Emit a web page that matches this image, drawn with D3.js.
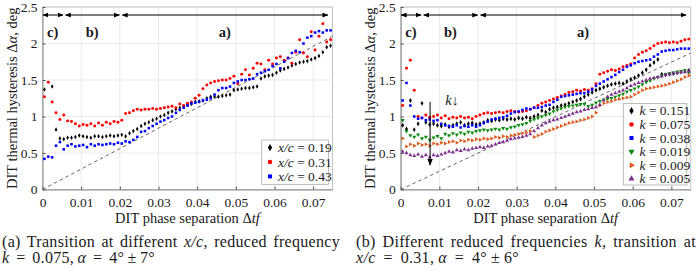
<!DOCTYPE html>
<html><head><meta charset="utf-8">
<script src="https://cdn.jsdelivr.net/npm/d3@7/dist/d3.min.js"></script>
<style>
body{margin:0;background:#fff}
svg{display:block}
text{font-family:"Liberation Serif","Times New Roman",serif;fill:#1a1a1a}
</style>
</head><body>
<svg id="c" width="700" height="273"></svg>
<script>
// ---------- DATA ----------
const dtf = [0.0005,0.0015,0.0025,0.0035,0.0045,0.0055,0.0065,0.0075,0.0085,0.0095,
 0.0105,0.0115,0.0125,0.0135,0.0145,0.0155,0.0165,0.0175,0.0185,0.0195,
 0.0205,0.0215,0.0225,0.0235,0.0245,0.0255,0.0265,0.0275,0.0285,0.0295,
 0.0305,0.0315,0.0325,0.0335,0.0345,0.0355,0.0365,0.0375,0.0385,0.0395,
 0.0405,0.0415,0.0425,0.0435,0.0445,0.0455,0.0465,0.0475,0.0485,0.0495,
 0.0505,0.0515,0.0525,0.0535,0.0545,0.0555,0.0565,0.0575,0.0585,0.0595,
 0.0605,0.0615,0.0625,0.0635,0.0645,0.0655,0.0665,0.0675,0.0685,0.0695,
 0.0705,0.0715,0.0725,0.0735,0.0745];

// Panel (a): transition at different x/c
const xcLabels = ["0.19","0.31","0.43"];
const xc019 = [1.37,null,1.41,0.82,0.70,0.69,0.71,0.71,0.72,0.74,
 0.73,0.72,0.71,0.73,0.73,0.72,0.73,0.74,0.73,0.74,
 0.75,0.73,0.77,0.80,0.83,0.87,0.90,0.92,0.95,0.97,
 1.00,1.02,1.05,1.07,1.10,1.12,1.14,1.16,1.17,1.20,
 1.21,1.22,1.25,1.27,1.27,1.27,1.28,1.29,1.30,1.36,
 1.37,1.38,1.39,1.39,1.40,1.41,1.52,1.55,1.56,1.57,
 1.60,1.63,1.65,1.67,1.70,1.72,1.74,1.75,1.76,1.78,
 1.80,1.83,1.88,1.95,1.97];
const xc031 = [1.27,1.47,1.20,1.05,0.96,1.02,0.94,0.93,0.90,0.87,
 0.89,0.88,0.90,0.87,0.91,0.88,0.92,0.90,0.93,0.92,
 0.95,1.04,1.05,1.08,1.10,1.09,1.10,1.10,1.11,1.10,
 1.11,1.12,1.13,1.14,1.12,1.17,1.15,1.18,1.20,1.25,
 1.29,1.38,1.43,1.46,1.48,1.49,1.50,1.50,1.52,1.55,
 1.45,1.58,1.64,1.57,1.66,1.73,1.72,1.64,1.77,1.72,
 1.80,1.82,1.77,1.80,1.73,1.88,2.05,1.87,1.82,2.16,
 1.91,2.10,2.27,2.02,2.05];
const xc043 = [0.42,0.45,0.44,0.60,0.65,0.55,0.60,0.62,0.59,0.60,
 0.61,0.58,0.62,0.60,0.62,0.61,0.62,0.63,0.62,0.64,
 0.63,0.66,0.65,0.68,0.72,0.79,0.80,0.84,0.87,0.90,
 0.93,0.95,0.98,1.00,1.05,1.09,1.12,1.15,1.18,1.19,
 1.20,1.22,1.23,1.25,1.30,1.36,1.39,1.39,1.41,1.46,
 1.48,1.50,1.50,1.51,1.52,1.58,1.60,1.62,1.64,1.69,
 1.72,1.66,1.75,1.80,1.87,1.90,1.88,2.00,2.08,2.10,
 2.15,2.17,2.15,2.18,2.18];

// Panel (b): different reduced frequencies k
const kLabels = ["0.151","0.075","0.038","0.019","0.009","0.005"];
const k0151 = [0.88,0.83,1.22,0.82,0.90,1.18,0.92,0.89,0.90,0.88,
 0.87,0.89,0.86,0.88,0.90,0.92,0.88,0.90,0.91,0.89,
 0.90,0.92,0.95,0.94,0.96,0.95,0.97,0.96,0.97,0.96,
 0.98,0.97,0.99,0.98,1.00,1.02,1.08,1.06,1.10,1.12,
 1.13,1.15,1.16,1.18,1.20,1.22,1.24,1.27,1.30,1.33,
 1.36,1.38,1.40,1.42,1.44,1.45,1.46,1.45,1.48,1.51,
 1.53,1.56,1.60,1.64,1.70,1.74,1.78,1.58,1.57,1.58,
 1.59,1.60,1.61,1.62,1.63];
const k0075 = [1.15,1.66,1.77,1.36,1.00,0.98,1.02,0.99,1.00,1.02,
 0.98,1.01,0.97,0.99,0.98,1.00,0.98,0.99,0.97,1.00,
 1.02,1.04,1.05,1.04,1.05,1.06,1.05,1.07,1.08,1.07,
 1.06,1.07,1.08,1.10,1.12,1.15,1.18,1.20,1.22,1.24,
 1.26,1.28,1.30,1.33,1.34,1.36,1.35,1.37,1.36,1.38,
 1.45,1.58,1.60,1.62,1.64,1.63,1.65,1.68,1.70,1.72,
 1.80,1.85,1.88,1.90,1.93,1.97,2.00,2.01,2.02,2.01,
 2.02,2.01,2.03,2.05,2.06];
const k0038 = [1.22,1.46,1.15,1.00,0.97,0.98,0.95,0.96,0.94,0.95,
 0.90,0.88,0.87,0.86,0.88,0.85,0.87,0.86,0.88,0.86,
 0.88,0.91,0.93,0.96,0.97,0.98,0.99,1.01,1.04,1.06,
 1.07,1.09,1.11,1.10,1.12,1.12,1.13,1.15,1.16,1.20,
 1.23,1.27,1.28,1.29,1.30,1.31,1.32,1.32,1.34,1.37,
 1.42,1.45,1.48,1.51,1.54,1.57,1.61,1.64,1.68,1.70,
 1.73,1.75,1.76,1.77,1.78,1.82,1.85,1.89,1.90,1.91,
 1.91,1.92,1.93,1.93,1.93];
const k0019 = [0.95,0.80,0.74,0.72,0.75,0.70,0.72,0.68,0.71,0.73,
 0.70,0.76,0.74,0.77,0.75,0.78,0.76,0.79,0.78,0.80,
 0.81,0.82,0.81,0.82,0.83,0.82,0.84,0.83,0.85,0.86,
 0.88,0.89,0.91,0.94,0.96,0.98,1.00,1.02,1.04,1.07,
 1.09,1.11,1.13,1.14,1.15,1.16,1.17,1.17,1.14,1.16,
 1.19,1.21,1.23,1.24,1.25,1.27,1.29,1.31,1.34,1.36,
 1.38,1.41,1.44,1.47,1.49,1.52,1.54,1.56,1.58,1.59,
 1.60,1.61,1.62,1.63,1.60];
const k0009 = [0.70,0.59,0.62,0.60,0.63,0.61,0.62,0.60,0.63,0.62,
 0.64,0.63,0.65,0.66,0.64,0.67,0.66,0.68,0.67,0.69,
 0.68,0.70,0.69,0.70,0.72,0.71,0.73,0.72,0.74,0.75,
 0.76,0.77,0.78,0.80,0.72,0.74,0.76,0.79,0.81,0.83,
 0.85,0.87,0.89,0.91,0.92,0.93,0.95,0.96,0.98,1.00,
 1.05,1.15,1.18,1.20,1.21,1.23,1.24,1.25,1.26,1.27,
 1.30,1.33,1.36,1.38,1.39,1.40,1.41,1.42,1.43,1.45,
 1.47,1.49,1.51,1.54,1.56];
const k0005 = [0.52,0.50,0.47,0.46,0.48,0.45,0.47,0.44,0.47,0.46,
 0.48,0.50,0.52,0.51,0.54,0.53,0.55,0.54,0.56,0.57,
 0.58,0.57,0.59,0.60,0.62,0.64,0.65,0.67,0.69,0.70,
 0.71,0.72,0.74,0.76,0.80,0.84,0.88,0.91,0.93,0.95,
 0.96,0.98,1.00,1.02,1.04,1.06,1.07,1.09,1.10,1.12,
 1.13,1.16,1.22,1.27,1.30,1.32,1.34,1.36,1.39,1.42,
 1.44,1.46,1.48,1.50,1.52,1.53,1.54,1.55,1.57,1.58,
 1.59,1.60,1.61,1.61,1.62];

// axis ticks
const xTicks = [0,0.01,0.02,0.03,0.04,0.05,0.06,0.07];
const xTickLabels = ["0","0.01","0.02","0.03","0.04","0.05","0.06","0.07"];
const yTicks = [0,0.5,1,1.5,2,2.5];
const yTickLabels = ["0","0.5","1","1.5","2","2.5"];
const xDomain = [0,0.075];
const yDomain = [0,2.5];

// reference line Δα vs Δtf end value at Δtf = 0.075
const diagEndA = 2.10, diagEndB = 1.87;

// regimes (arrows at the top)
const regimeLabels = ["c)","b)","a)"];
const regimeStart = [0,0.0058,0.0205];
const regimeEnd = [0.0053,0.0199,0.0738];
const regimeArrowY = 2.39, regimeLabelY = 2.16;

// k arrow in panel (b)
const kArrowX = 0.0076, kArrowFrom = 1.2, kArrowTo = 0.335;

// ---------- DRAWING ----------
const svg = d3.select("#c");
const plotTop = 7, plotBottom = 189.5;
const colors = {black:"#000000", red:"#ff0000", blue:"#0000ff", green:"#0a8a0a", orange:"#e0581a", purple:"#7e2f8e"};

const panels = [
 {x0:42.5, x1:332.5,
  series:[
   {vals:xc019, color:colors.black, shape:"diamond", rot:0, size:6, label:xcLabels[0]},
   {vals:xc031, color:colors.red, shape:"circle", rot:0, size:7, label:xcLabels[1]},
   {vals:xc043, color:colors.blue, shape:"square", rot:0, size:6.5, label:xcLabels[2]}],
  legName:"x/c", leg:{l:261.7, r:328.5, t:140, b:184.5, dy:14.4, y0:147.6, mx:270, tx:278},
  diagEnd:diagEndA, ylabX:17, cap:[
   [["(a) Transition at different ",0],["x/c",1],[", reduced frequency",0]],
   [["k",1],["  =  0.075, ",0],["α",1],["  =  4° ± 7°",0]]], capX:2, capW:[338,153]},
 {x0:400.7, x1:690.7,
  series:[
   {vals:k0151, color:colors.black, shape:"diamond", rot:0, size:7, label:kLabels[0]},
   {vals:k0075, color:colors.red, shape:"circle", rot:0, size:7, label:kLabels[1]},
   {vals:k0038, color:colors.blue, shape:"square", rot:0, size:6.5, label:kLabels[2]},
   {vals:k0019, color:colors.green, shape:"triangle", rot:180, size:7, label:kLabels[3]},
   {vals:k0009, color:colors.orange, shape:"triangle", rot:90, size:7, label:kLabels[4]},
   {vals:k0005, color:colors.purple, shape:"triangle", rot:0, size:7, label:kLabels[5]}],
  legName:"k", leg:{l:623.3, r:686.7, t:103.5, b:185, dy:13.6, y0:110.8, mx:631.5, tx:639.5},
  diagEnd:diagEndB, ylabX:375, cap:[
   [["(b) Different reduced frequencies ",0],["k",1],[", transition at",0]],
   [["x/c",1],["  =  0.31, ",0],["α",1],["  =  4° ± 6°",0]]], capX:356, capW:[340,163]}
];

const shapes = {diamond:d3.symbolDiamond, circle:d3.symbolCircle, square:d3.symbolSquare, triangle:d3.symbolTriangle};

const defs = svg.append("defs");
defs.append("marker").attr("id","ah").attr("viewBox","0 0 10 10").attr("refX",9).attr("refY",5)
 .attr("markerWidth",6).attr("markerHeight",6).attr("markerUnits","userSpaceOnUse").attr("orient","auto-start-reverse")
 .append("path").attr("d","M0,1 L10,5 L0,9 Z").attr("fill","#000");
defs.append("marker").attr("id","ah2").attr("viewBox","0 0 10 10").attr("refX",9).attr("refY",5)
 .attr("markerWidth",7).attr("markerHeight",7).attr("markerUnits","userSpaceOnUse").attr("orient","auto")
 .append("path").attr("d","M0,1 L10,5 L0,9 Z").attr("fill","#000");

panels.forEach((p,pi)=>{
  const x = d3.scaleLinear().domain(xDomain).range([p.x0,p.x1]);
  const y = d3.scaleLinear().domain(yDomain).range([plotBottom,plotTop]);
  const g = svg.append("g");

  // grid
  g.append("g").selectAll("line").data(xTicks.slice(1)).join("line")
   .attr("x1",d=>x(d)).attr("x2",d=>x(d)).attr("y1",plotTop).attr("y2",plotBottom)
   .attr("stroke","#e6e6e6").attr("stroke-width",0.8);
  g.append("g").selectAll("line").data(yTicks.slice(1)).join("line")
   .attr("y1",d=>y(d)).attr("y2",d=>y(d)).attr("x1",p.x0).attr("x2",p.x1)
   .attr("stroke","#e6e6e6").attr("stroke-width",0.8);

  // frame
  g.append("rect").attr("x",p.x0).attr("y",plotTop).attr("width",p.x1-p.x0).attr("height",plotBottom-plotTop)
   .attr("fill","none").attr("stroke","#c4c4c4").attr("stroke-width",1);

  // axes
  const ax = g.append("g").attr("transform",`translate(0,${plotBottom})`)
   .call(d3.axisBottom(x).tickValues(xTicks).tickFormat((d,i)=>xTickLabels[i]).tickSizeInner(-3).tickSizeOuter(0).tickPadding(8));
  const ay = g.append("g").attr("transform",`translate(${p.x0},0)`)
   .call(d3.axisLeft(y).tickValues(yTicks).tickFormat((d,i)=>yTickLabels[i]).tickSizeInner(-3).tickSizeOuter(0).tickPadding(5));
  [ax,ay].forEach(a=>{
    a.select(".domain").attr("stroke","#8c8c8c");
    a.selectAll(".tick line").attr("stroke","#555");
    a.selectAll(".tick text").attr("font-family","Liberation Serif").attr("font-size",13.5).attr("fill","#1a1a1a");
  });

  // axis titles
  g.append("text").attr("x",(p.x0+p.x1)/2).attr("y",223).attr("text-anchor","middle").attr("font-size",14.5)
   .call(t=>{t.append("tspan").text("DIT phase separation Δ"); t.append("tspan").attr("font-style","italic").text("tf");});
  g.append("text").attr("transform",`translate(${p.ylabX},${(plotTop+plotBottom)/2}) rotate(-90)`).attr("text-anchor","middle").attr("font-size",14.5)
   .call(t=>{t.append("tspan").text("DIT thermal hysteresis Δ"); t.append("tspan").attr("font-style","italic").text("α"); t.append("tspan").text(", deg");});

  // dashed reference line
  g.append("line").attr("x1",x(0)).attr("y1",y(0)).attr("x2",x(xDomain[1])).attr("y2",y(p.diagEnd))
   .attr("stroke","#666").attr("stroke-width",1).attr("stroke-dasharray","3.5,3");

  // data points
  p.series.forEach(s=>{
    const pts = dtf.map((d,i)=>({x:d,y:s.vals[i]})).filter(d=>d.y!=null);
    g.append("g").selectAll("path").data(pts).join("path")
     .attr("d",d3.symbol().type(shapes[s.shape]).size(s.size))
     .attr("transform",d=>`translate(${x(d.x)},${y(d.y)}) rotate(${s.rot})`)
     .attr("fill",s.color);
  });

  // regime arrows
  regimeLabels.forEach((lab,i)=>{
    g.append("line").attr("x1",x(regimeStart[i])+0.5).attr("x2",x(regimeEnd[i])).attr("y1",y(regimeArrowY)).attr("y2",y(regimeArrowY))
     .attr("stroke","#000").attr("stroke-width",1).attr("marker-start","url(#ah)").attr("marker-end","url(#ah)");
    g.append("text").attr("x",x((regimeStart[i]+regimeEnd[i])/2)).attr("y",y(regimeLabelY)+5)
     .attr("text-anchor","middle").attr("font-size",14.5).attr("font-weight","bold").text(lab);
  });

  // legend
  const L = p.leg;
  g.append("rect").attr("x",L.l).attr("y",L.t).attr("width",L.r-L.l).attr("height",L.b-L.t)
   .attr("fill","#fff").attr("stroke","#b0b0b0").attr("stroke-width",0.8);
  p.series.forEach((s,i)=>{
    const yy = L.y0 + i*L.dy;
    g.append("path").attr("d",d3.symbol().type(shapes[s.shape]).size(16))
     .attr("transform",`translate(${L.mx},${yy}) rotate(${s.rot})`).attr("fill",s.color);
    g.append("text").attr("x",L.tx).attr("y",yy+4.5).attr("font-size",13.5)
     .call(t=>{t.append("tspan").attr("font-style","italic").text(p.legName); t.append("tspan").text(" = "+s.label);});
  });

  // caption (fit widths of the LaTeX caption)
  p.cap.forEach((line,li)=>{
    const t = g.append("text").attr("x",p.capX).attr("y",246.5+li*16.5).attr("font-size",16)
      .attr("letter-spacing",0.3).style("white-space","pre");
    line.forEach(seg=>t.append("tspan").attr("font-style",seg[1]?"italic":"normal").text(seg[0]));
    const w = t.node().getComputedTextLength();
    const nSp = line.map(s=>s[0]).join("").split(" ").length-1;
    if(nSp>0) t.attr("word-spacing", Math.max(-2,(p.capW[li]-w)/nSp));
  });

  if(pi===1){
    g.append("line").attr("x1",x(kArrowX)).attr("x2",x(kArrowX)).attr("y1",y(kArrowFrom)).attr("y2",y(kArrowTo))
     .attr("stroke","#000").attr("stroke-width",1).attr("marker-end","url(#ah2)");
    g.append("text").attr("x",452).attr("y",104.5).attr("text-anchor","middle").attr("font-size",14.5)
     .call(t=>{t.append("tspan").attr("font-style","italic").text("k"); t.append("tspan").text("↓");});
  }
});
</script>
</body></html>
